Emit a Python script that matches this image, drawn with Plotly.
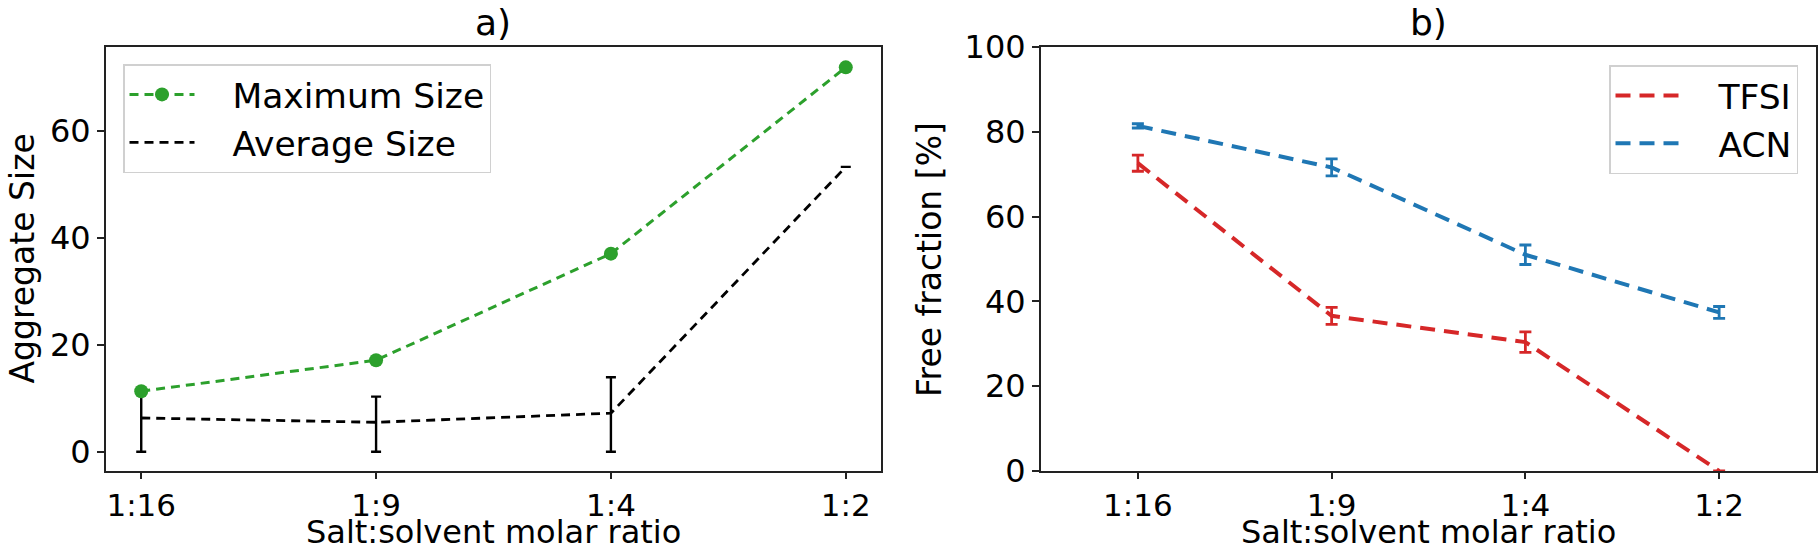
import plotly.graph_objects as go

# ---------------- data ----------------
categories = ["1:16", "1:9", "1:4", "1:2"]

max_size = [11.3, 17.1, 37.0, 71.8]
avg_size = [6.3, 5.5, 7.2, 53.2]
avg_err_plus = [5.0, 4.8, 6.7, 0.0]
avg_err_minus = [6.3, 5.5, 7.2, 0.0]

tfsi = [72.6, 36.6, 30.4, 0.0]
tfsi_err = [1.9, 2.0, 2.4, 0.0]
acn = [81.4, 71.6, 51.0, 37.4]
acn_err = [0.5, 2.0, 2.3, 1.4]

x_title = "Salt:solvent molar ratio"
y_title_a = "Aggregate Size"
y_title_b = "Free fraction [%]"

x_idx = list(range(len(categories)))

FONT = "DejaVu Sans"
GREEN = "#2ca02c"
RED = "#d62728"
BLUE = "#1f77b4"
PAD = "\u00a0\u00a0\u00a0"

W, H = 1820, 553

fig = go.Figure()

# Panel a (average drawn first so the green markers sit on top)
fig.add_trace(go.Scatter(
    x=x_idx, y=avg_size, mode="lines", name=PAD + "Average Size",
    line=dict(color="black", width=2.8, dash="9px,6px"),
    error_y=dict(type="data", symmetric=False, array=avg_err_plus,
                 arrayminus=avg_err_minus, color="black", thickness=2.4, width=5),
    xaxis="x", yaxis="y", legend="legend", legendrank=2,
))
fig.add_trace(go.Scatter(
    x=x_idx, y=max_size, mode="lines+markers", name=PAD + "Maximum Size",
    line=dict(color=GREEN, width=3, dash="9px,6px"),
    marker=dict(color=GREEN, size=14),
    xaxis="x", yaxis="y", legend="legend", legendrank=1,
))

# Panel b
fig.add_trace(go.Scatter(
    x=x_idx, y=tfsi, mode="lines", name=PAD + "TFSI",
    line=dict(color=RED, width=4, dash="15px,9px"),
    error_y=dict(type="data", array=tfsi_err, color=RED, thickness=2.8, width=6),
    xaxis="x2", yaxis="y2", legend="legend2",
))
fig.add_trace(go.Scatter(
    x=x_idx, y=acn, mode="lines", name=PAD + "ACN",
    line=dict(color=BLUE, width=4, dash="15px,9px"),
    error_y=dict(type="data", array=acn_err, color=BLUE, thickness=2.8, width=6),
    xaxis="x2", yaxis="y2", legend="legend2",
))

ytop = 1 - 47 / H
ybot = 1 - 471 / H
ax_common = dict(
    showline=True, mirror=True, linecolor="#222222", linewidth=1.8,
    ticks="outside", ticklen=7, tickwidth=1.6, tickcolor="#222222",
    showgrid=False, zeroline=False, automargin=False,
    tickfont=dict(family=FONT, size=32, color="black"),
)
xaxis_common = dict(ax_common, tickmode="array", tickvals=x_idx, ticktext=categories,
                    tickfont=dict(family=FONT, size=31, color="black"), ticklen=6)

LEG = dict(
    bgcolor="rgba(255,255,255,0.8)", bordercolor="#d0d0d0", borderwidth=1.5,
    font=dict(family=FONT, size=34.5, color="black"),
    itemwidth=65, tracegroupgap=0,
)

xa = [106 / W, 881 / W]
xb = [1041 / W, 1816 / W]
ymid = (ytop + ybot) / 2


def ann(text, x, y, size, **kw):
    d = dict(text=text, x=x, y=y, xref="paper", yref="paper", showarrow=False,
             font=dict(family=FONT, size=size, color="black"))
    d.update(kw)
    return d


fig.update_layout(
    width=W, height=H,
    margin=dict(l=0, r=0, t=0, b=0, autoexpand=False),
    paper_bgcolor="white", plot_bgcolor="white",
    showlegend=True,
    xaxis=dict(xaxis_common, domain=xa, range=[-0.15, 3.15], anchor="y"),
    yaxis=dict(ax_common, domain=[ybot, ytop], range=[-3.6, 75.6],
               tickvals=[0, 20, 40, 60], anchor="x"),
    xaxis2=dict(xaxis_common, domain=xb, range=[-0.5, 3.5], anchor="y2"),
    yaxis2=dict(ax_common, domain=[ybot, ytop], range=[0, 100],
                tickvals=[0, 20, 40, 60, 80, 100], anchor="x2"),
    legend=dict(LEG, x=123 / W, y=1 - 64 / H, xanchor="left", yanchor="top"),
    legend2=dict(LEG, x=1798 / W, y=1 - 65 / H, xanchor="right", yanchor="top"),
    annotations=[
        ann("a)", sum(xa) / 2, 1, 36, xanchor="center", yanchor="top"),
        ann("b)", sum(xb) / 2, 1, 36, xanchor="center", yanchor="top"),
        ann(x_title, sum(xa) / 2, 0, 32, xanchor="center", yanchor="bottom"),
        ann(x_title, sum(xb) / 2, 0, 32, xanchor="center", yanchor="bottom"),
        ann(y_title_a, 0, ymid, 33, xanchor="left", yanchor="middle", textangle=-90),
        ann(y_title_b, 929 / W, ymid, 33, xanchor="center", yanchor="middle", textangle=-90),
    ],
)

fig.write_html("out.html")
